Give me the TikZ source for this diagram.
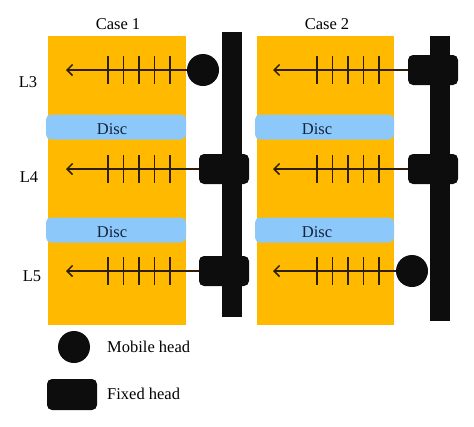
\documentclass[tikz,border=0pt]{standalone}
\usepackage{fontspec}
\setmainfont{Liberation Serif}
\usetikzlibrary{arrows.meta}
\definecolor{bodyor}{RGB}{255,186,0}
\definecolor{discbl}{RGB}{140,200,250}
\definecolor{discfg}{RGB}{20,35,60}
\definecolor{tickc}{RGB}{45,30,5}
\tikzset{
  body/.style={fill=bodyor, inner sep=0, minimum width=138, minimum height=289},
  disc/.style={fill=discbl, rounded corners=5, inner sep=0, minimum width=140, minimum height=25},
  rod/.style={fill=black!95, inner sep=0, minimum width=20, minimum height=285},
  fixedhead/.style={fill=black!95, rounded corners=5, inner sep=0, minimum width=50, minimum height=30},
  mobilehead/.style={fill=black!95, circle, inner sep=0, minimum size=32},
  screw/.style={draw=tickc, line width=1.5, -{Straight Barb[length=5.5,width=11,line width=1.5]}},
  tick/.style={draw=tickc, line width=1.6},
  lbl/.style={font=\fontsize{16.5}{19}\selectfont, inner sep=0},
  disclbl/.style={font=\fontsize{16.5}{19}\selectfont, text=discfg, inner sep=0}
}
\begin{document}
\begin{tikzpicture}[x=1pt, y=-1pt]
\useasboundingbox (0,0) rectangle (474,426);
% bodies
\node[body] (b1) at (117,180.5) {};
\node[body, minimum width=137] (b2) at (325.5,180.5) {};
\node[disc] (d1a) at (116,127) {};
\node[disc] (d1b) at (116,230) {};
\node[disc, minimum width=139] (d2a) at (324.5,127) {};
\node[disc, minimum width=139] (d2b) at (324.5,230) {};
\node[disclbl] (t1a) at (112,129) {Disc};
\node[disclbl] (t1b) at (112,232) {Disc};
\node[disclbl] (t2a) at (317,129) {Disc};
\node[disclbl] (t2b) at (317,232) {Disc};
% titles and levels
\node[lbl] (c1) at (118,24) {Case 1};
\node[lbl] (c2) at (327,24) {Case 2};
\node[lbl] (l3) at (28,82) {L3};
\node[lbl] (l4) at (29,177) {L4};
\node[lbl] (l5) at (32,276) {L5};
% rods
\node[rod] (r1) at (232,174.5) {};
\node[rod] (r2) at (440,178.5) {};
% heads
\node[mobilehead] (h11) at (203,70) {};
\node[fixedhead] (h12) at (224,169) {};
\node[fixedhead] (h13) at (224,271) {};
\node[fixedhead] (h21) at (433,70) {};
\node[fixedhead] (h22) at (433,169) {};
\node[mobilehead] (h23) at (412,271) {};
% arrow tips
\coordinate (a11) at (66,70);
\coordinate (a12) at (66,169);
\coordinate (a13) at (66,271);
\coordinate (a21) at (273,70);
\coordinate (a22) at (273,169);
\coordinate (a23) at (273,271);
\draw[screw] (h11.west) -- (a11);
\draw[screw] (h12.west) -- (a12);
\draw[screw] (h13.west) -- (a13);
\draw[screw] (h21.west) -- (a21);
\draw[screw] (h22.west) -- (a22);
\draw[screw] (h23.west) -- (a23);
% thread ticks
\foreach \yy in {70,169,271}{
  \foreach \xx in {108,123.5,139,154.5,170}{
    \draw[tick] (\xx,\yy-14) -- (\xx,\yy+14);
  }
  \foreach \xx in {317,332.5,348,363.5,379}{
    \draw[tick] (\xx,\yy-14) -- (\xx,\yy+14);
  }
}
% legend
\node[mobilehead] (lm) at (74,347) {};
\node[fixedhead, minimum height=31] (lf) at (72,394.5) {};
\node[lbl, anchor=west] (lmt) at (107,347) {Mobile head};
\node[lbl, anchor=west] (lft) at (107,394) {Fixed head};
\end{tikzpicture}
\end{document}
